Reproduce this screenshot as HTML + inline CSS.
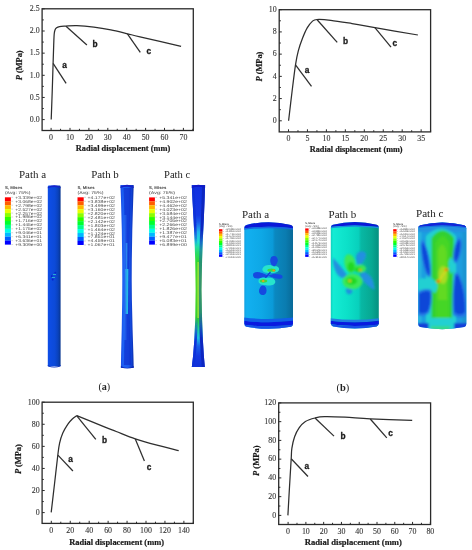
<!DOCTYPE html>
<html><head><meta charset="utf-8"><style>
html,body{margin:0;padding:0;background:#fff;width:472px;height:550px;overflow:hidden;}
svg{display:block;}
.tk{font-family:"Liberation Serif",serif;font-size:7.9px;fill:#333;stroke:#333;stroke-width:0.1px;}
.ttl{font-family:"Liberation Serif",serif;font-weight:bold;font-size:8.6px;fill:#1a1a1a;stroke:#1a1a1a;stroke-width:0.2px;}
.bl{font-family:"Liberation Sans",sans-serif;font-weight:bold;font-size:8.3px;fill:#1a1a1a;stroke:#1a1a1a;stroke-width:0.3px;}
.pt{font-family:"Liberation Serif",serif;font-size:11px;fill:#222;}
.lg{font-family:"Liberation Sans",sans-serif;fill:#444;}
.lh{font-family:"Liberation Sans",sans-serif;font-weight:bold;fill:#444;}
</style></head><body>
<svg width="472" height="550" viewBox="0 0 472 550">
<defs>

<linearGradient id="gca" x1="0" x2="1" y1="0" y2="0">
 <stop offset="0" stop-color="#0e4ee8"/><stop offset="0.55" stop-color="#0c4ad8"/><stop offset="0.8" stop-color="#0a42bc"/><stop offset="1" stop-color="#07358f"/>
</linearGradient>
<linearGradient id="gcb" x1="0" x2="1" y1="0" y2="0">
 <stop offset="0" stop-color="#1448e4"/><stop offset="0.2" stop-color="#1e60f4"/><stop offset="0.6" stop-color="#1a58ec"/><stop offset="0.85" stop-color="#1040d0"/><stop offset="1" stop-color="#0a2ca8"/>
</linearGradient>
<linearGradient id="gcc" x1="0" x2="0" y1="185" y2="367" gradientUnits="userSpaceOnUse">
 <stop offset="0" stop-color="#1030e0"/><stop offset="0.165" stop-color="#1438e4"/><stop offset="0.203" stop-color="#1a58ea"/><stop offset="0.258" stop-color="#20b8ec"/>
 <stop offset="0.313" stop-color="#20e0d0"/><stop offset="0.368" stop-color="#28dc70"/><stop offset="0.423" stop-color="#30d830"/><stop offset="0.522" stop-color="#50d828"/>
 <stop offset="0.632" stop-color="#48d428"/><stop offset="0.731" stop-color="#30d030"/><stop offset="0.797" stop-color="#20d0a0"/><stop offset="0.841" stop-color="#20c0e0"/>
 <stop offset="0.885" stop-color="#1860e8"/><stop offset="0.94" stop-color="#1438e0"/><stop offset="1" stop-color="#1030d8"/>
</linearGradient>
<linearGradient id="gedge" x1="0" x2="0" y1="185" y2="367" gradientUnits="userSpaceOnUse">
 <stop offset="0" stop-color="#1030d8" stop-opacity="1"/><stop offset="0.22" stop-color="#1030d8" stop-opacity="1"/><stop offset="0.34" stop-color="#1030d8" stop-opacity="0"/>
 <stop offset="0.72" stop-color="#1030d8" stop-opacity="0"/><stop offset="0.86" stop-color="#1030d8" stop-opacity="1"/><stop offset="1" stop-color="#1030d8" stop-opacity="1"/>
</linearGradient>
<linearGradient id="gedge2" x1="0" x2="0" y1="185" y2="367" gradientUnits="userSpaceOnUse">
 <stop offset="0" stop-color="#0c28c0" stop-opacity="1"/><stop offset="0.25" stop-color="#0c28c0" stop-opacity="1"/><stop offset="0.36" stop-color="#1040c0" stop-opacity="0.45"/>
 <stop offset="0.7" stop-color="#1040c0" stop-opacity="0.45"/><stop offset="0.84" stop-color="#0c28c0" stop-opacity="1"/><stop offset="1" stop-color="#0c28c0" stop-opacity="1"/>
</linearGradient>
<linearGradient id="gsh" x1="0" x2="1" y1="0" y2="0">
 <stop offset="0" stop-color="#0010a0" stop-opacity="0.15"/><stop offset="0.25" stop-color="#000" stop-opacity="0"/><stop offset="0.6" stop-color="#0010a0" stop-opacity="0.08"/><stop offset="1" stop-color="#0010a0" stop-opacity="0.5"/>
</linearGradient>
<linearGradient id="gya" x1="244.3" x2="293" y1="0" y2="0" gradientUnits="userSpaceOnUse">
 <stop offset="0" stop-color="#14a0e0"/><stop offset="0.05" stop-color="#12b0f0"/><stop offset="0.35" stop-color="#0ea8e6"/><stop offset="0.58" stop-color="#0a9ad8"/><stop offset="0.63" stop-color="#0a88c0"/><stop offset="0.85" stop-color="#0a7cb0"/><stop offset="1" stop-color="#086a98"/>
</linearGradient>
<linearGradient id="gyb" x1="330.8" x2="378.8" y1="0" y2="0" gradientUnits="userSpaceOnUse">
 <stop offset="0" stop-color="#10d0bc"/><stop offset="0.05" stop-color="#14ecd4"/><stop offset="0.35" stop-color="#0ce0c8"/><stop offset="0.58" stop-color="#08d0bc"/><stop offset="0.63" stop-color="#08b8a4"/><stop offset="0.85" stop-color="#07a892"/><stop offset="1" stop-color="#059080"/>
</linearGradient>
<filter id="bl1" x="-20%" y="-20%" width="140%" height="140%"><feGaussianBlur stdDeviation="0.9"/></filter>
<filter id="bl2" x="-20%" y="-20%" width="140%" height="140%"><feGaussianBlur stdDeviation="0.75"/></filter>

</defs>
<rect width="472" height="550" fill="#fff"/>
<rect x="42.1" y="8.8" width="151.2" height="121.7" fill="none" stroke="#2a2a2a" stroke-width="1.3"/>
<path d="M51.1,130.5v-2.6 M70,130.5v-2.6 M88.9,130.5v-2.6 M107.8,130.5v-2.6 M126.7,130.5v-2.6 M145.6,130.5v-2.6 M164.5,130.5v-2.6 M183.4,130.5v-2.6 M60.55,130.5v-1.7 M79.45,130.5v-1.7 M98.35,130.5v-1.7 M117.25,130.5v-1.7 M136.15,130.5v-1.7 M155.05,130.5v-1.7 M173.95,130.5v-1.7 M192.85,130.5v-1.7 M42.1,119.6h2.6 M42.1,97.45h2.6 M42.1,75.3h2.6 M42.1,53.15h2.6 M42.1,31h2.6 M42.1,8.85h2.6 M42.1,108.52h1.7 M42.1,86.38h1.7 M42.1,64.22h1.7 M42.1,42.08h1.7 M42.1,19.92h1.7" stroke="#2a2a2a" stroke-width="1" fill="none"/>
<text x="51.1" y="139.6" class="tk" text-anchor="middle">0</text>
<text x="70" y="139.6" class="tk" text-anchor="middle">10</text>
<text x="88.9" y="139.6" class="tk" text-anchor="middle">20</text>
<text x="107.8" y="139.6" class="tk" text-anchor="middle">30</text>
<text x="126.7" y="139.6" class="tk" text-anchor="middle">40</text>
<text x="145.6" y="139.6" class="tk" text-anchor="middle">50</text>
<text x="164.5" y="139.6" class="tk" text-anchor="middle">60</text>
<text x="183.4" y="139.6" class="tk" text-anchor="middle">70</text>
<text x="39.6" y="121.9" class="tk" text-anchor="end">0.0</text>
<text x="39.6" y="99.75" class="tk" text-anchor="end">0.5</text>
<text x="39.6" y="77.6" class="tk" text-anchor="end">1.0</text>
<text x="39.6" y="55.45" class="tk" text-anchor="end">1.5</text>
<text x="39.6" y="33.3" class="tk" text-anchor="end">2.0</text>
<text x="39.6" y="11.15" class="tk" text-anchor="end">2.5</text>
<text x="75.8" y="150.9" class="ttl" textLength="94.4" lengthAdjust="spacingAndGlyphs">Radial displacement (mm)</text>
<text transform="translate(22.3,80.3) rotate(-90)" class="ttl" x="0" y="0" textLength="29.9" lengthAdjust="spacingAndGlyphs"><tspan font-style="italic">P</tspan> (MPa)</text>
<path d="M51.2,119.4 C51.37,114.83 51.88,101.35 52.2,92 C52.52,82.65 52.85,71.13 53.1,63.3 C53.35,55.47 53.52,49.88 53.7,45 C53.88,40.12 53.98,36.5 54.2,34 C54.42,31.5 54.6,31.03 55,30 C55.4,28.97 55.85,28.37 56.6,27.8 C57.35,27.23 57.95,26.88 59.5,26.6 C61.05,26.32 63,26.27 65.9,26.1 C68.8,25.93 72.23,25.43 76.9,25.6 C81.57,25.77 88.25,26.38 93.9,27.1 C99.55,27.82 105.2,28.78 110.8,29.9 C116.4,31.02 122.63,32.65 127.5,33.8 C132.37,34.95 131.07,34.72 140,36.8 C148.93,38.88 174.25,44.72 181.1,46.3" stroke="#2e2e2e" stroke-width="1.25" fill="none" stroke-linejoin="round"/>
<path d="M53.1,63.3L66.1,83.3" stroke="#2e2e2e" stroke-width="1.25" fill="none"/>
<path d="M66,26.3L86.9,45" stroke="#2e2e2e" stroke-width="1.25" fill="none"/>
<path d="M127.4,33.8L140.3,52.3" stroke="#2e2e2e" stroke-width="1.25" fill="none"/>
<text x="62.2" y="68.4" class="bl">a</text>
<text x="92.5" y="47.2" class="bl">b</text>
<text x="146.6" y="53.9" class="bl">c</text>
<rect x="279.2" y="9.7" width="151.4" height="122.2" fill="none" stroke="#2a2a2a" stroke-width="1.3"/>
<path d="M288.5,131.9v-2.6 M307.45,131.9v-2.6 M326.4,131.9v-2.6 M345.35,131.9v-2.6 M364.3,131.9v-2.6 M383.25,131.9v-2.6 M402.2,131.9v-2.6 M421.15,131.9v-2.6 M297.98,131.9v-1.7 M316.93,131.9v-1.7 M335.88,131.9v-1.7 M354.82,131.9v-1.7 M373.77,131.9v-1.7 M392.73,131.9v-1.7 M411.68,131.9v-1.7 M430.62,131.9v-1.7 M279.2,120.8h2.6 M279.2,98.58h2.6 M279.2,76.36h2.6 M279.2,54.14h2.6 M279.2,31.92h2.6 M279.2,9.7h2.6 M279.2,109.69h1.7 M279.2,87.47h1.7 M279.2,65.25h1.7 M279.2,43.03h1.7 M279.2,20.81h1.7" stroke="#2a2a2a" stroke-width="1" fill="none"/>
<text x="288.5" y="141" class="tk" text-anchor="middle">0</text>
<text x="307.45" y="141" class="tk" text-anchor="middle">5</text>
<text x="326.4" y="141" class="tk" text-anchor="middle">10</text>
<text x="345.35" y="141" class="tk" text-anchor="middle">15</text>
<text x="364.3" y="141" class="tk" text-anchor="middle">20</text>
<text x="383.25" y="141" class="tk" text-anchor="middle">25</text>
<text x="402.2" y="141" class="tk" text-anchor="middle">30</text>
<text x="421.15" y="141" class="tk" text-anchor="middle">35</text>
<text x="276.7" y="123.1" class="tk" text-anchor="end">0</text>
<text x="276.7" y="100.88" class="tk" text-anchor="end">2</text>
<text x="276.7" y="78.66" class="tk" text-anchor="end">4</text>
<text x="276.7" y="56.44" class="tk" text-anchor="end">6</text>
<text x="276.7" y="34.22" class="tk" text-anchor="end">8</text>
<text x="276.7" y="12" class="tk" text-anchor="end">10</text>
<text x="309.8" y="151.8" class="ttl" textLength="92.8" lengthAdjust="spacingAndGlyphs">Radial displacement (mm)</text>
<text transform="translate(262,81.5) rotate(-90)" class="ttl" x="0" y="0" textLength="29.9" lengthAdjust="spacingAndGlyphs"><tspan font-style="italic">P</tspan> (MPa)</text>
<path d="M288.6,120.8 C289.17,116 290.85,101.33 292,92 C293.15,82.67 294.45,71.67 295.5,64.8 C296.55,57.93 297.12,55.25 298.3,50.8 C299.48,46.35 301.12,41.92 302.6,38.1 C304.08,34.28 305.58,30.68 307.2,27.9 C308.82,25.12 310.68,22.8 312.3,21.4 C313.92,20 313.82,19.68 316.9,19.5 C319.98,19.32 324.95,19.62 330.8,20.3 C336.65,20.98 344.65,22.38 352,23.6 C359.35,24.82 363.92,25.7 374.9,27.6 C385.88,29.5 410.73,33.77 417.9,35" stroke="#2e2e2e" stroke-width="1.25" fill="none" stroke-linejoin="round"/>
<path d="M295.5,64.8L311.5,86.4" stroke="#2e2e2e" stroke-width="1.25" fill="none"/>
<path d="M316.9,19.5L337.2,42.4" stroke="#2e2e2e" stroke-width="1.25" fill="none"/>
<path d="M374.9,27.6L391,47.1" stroke="#2e2e2e" stroke-width="1.25" fill="none"/>
<text x="304.7" y="73.3" class="bl">a</text>
<text x="342.9" y="44.3" class="bl">b</text>
<text x="392.4" y="45.6" class="bl">c</text>
<rect x="42.1" y="402.2" width="151.2" height="121.2" fill="none" stroke="#2a2a2a" stroke-width="1.3"/>
<path d="M51.3,523.4v-2.6 M70.24,523.4v-2.6 M89.18,523.4v-2.6 M108.12,523.4v-2.6 M127.06,523.4v-2.6 M146,523.4v-2.6 M164.94,523.4v-2.6 M183.88,523.4v-2.6 M60.77,523.4v-1.7 M79.71,523.4v-1.7 M98.65,523.4v-1.7 M117.59,523.4v-1.7 M136.53,523.4v-1.7 M155.47,523.4v-1.7 M174.41,523.4v-1.7 M193.35,523.4v-1.7 M42.1,512.6h2.6 M42.1,490.52h2.6 M42.1,468.44h2.6 M42.1,446.36h2.6 M42.1,424.28h2.6 M42.1,402.2h2.6 M42.1,501.56h1.7 M42.1,479.48h1.7 M42.1,457.4h1.7 M42.1,435.32h1.7 M42.1,413.24h1.7" stroke="#2a2a2a" stroke-width="1" fill="none"/>
<text x="51.3" y="532.5" class="tk" text-anchor="middle">0</text>
<text x="70.24" y="532.5" class="tk" text-anchor="middle">20</text>
<text x="89.18" y="532.5" class="tk" text-anchor="middle">40</text>
<text x="108.12" y="532.5" class="tk" text-anchor="middle">60</text>
<text x="127.06" y="532.5" class="tk" text-anchor="middle">80</text>
<text x="146" y="532.5" class="tk" text-anchor="middle">100</text>
<text x="164.94" y="532.5" class="tk" text-anchor="middle">120</text>
<text x="183.88" y="532.5" class="tk" text-anchor="middle">140</text>
<text x="39.6" y="514.9" class="tk" text-anchor="end">0</text>
<text x="39.6" y="492.82" class="tk" text-anchor="end">20</text>
<text x="39.6" y="470.74" class="tk" text-anchor="end">40</text>
<text x="39.6" y="448.66" class="tk" text-anchor="end">60</text>
<text x="39.6" y="426.58" class="tk" text-anchor="end">80</text>
<text x="39.6" y="404.5" class="tk" text-anchor="end">100</text>
<text x="69.2" y="545.3" class="ttl" textLength="94.8" lengthAdjust="spacingAndGlyphs">Radial displacement (mm)</text>
<text transform="translate(21,474.1) rotate(-90)" class="ttl" x="0" y="0" textLength="29.9" lengthAdjust="spacingAndGlyphs"><tspan font-style="italic">P</tspan> (MPa)</text>
<path d="M51.2,512.4 C51.75,507.67 53.4,493.53 54.5,484 C55.6,474.47 56.95,462.02 57.8,455.2 C58.65,448.38 58.77,446.8 59.6,443.1 C60.43,439.4 61.42,436.17 62.8,433 C64.18,429.83 66.32,426.43 67.9,424.1 C69.48,421.77 70.82,420.42 72.3,419 C73.78,417.58 76.05,416.17 76.8,415.6" stroke="#2e2e2e" stroke-width="1.25" fill="none" stroke-linejoin="round"/>
<path d="M76.8,415.6 C81.5,417.53 98.43,424.55 105,427.2 C111.57,429.85 111.15,429.55 116.2,431.5 C121.25,433.45 128.5,436.62 135.3,438.9 C142.1,441.18 149.77,443.25 157,445.2 C164.23,447.15 175.08,449.7 178.7,450.6" stroke="#2e2e2e" stroke-width="1.25" fill="none" stroke-linejoin="round"/>
<path d="M57.9,455.1L72.9,471" stroke="#2e2e2e" stroke-width="1.25" fill="none"/>
<path d="M76.8,415.8L95.8,439.3" stroke="#2e2e2e" stroke-width="1.25" fill="none"/>
<path d="M135.3,438.9L144.4,461.1" stroke="#2e2e2e" stroke-width="1.25" fill="none"/>
<text x="68.2" y="461.7" class="bl">a</text>
<text x="102" y="442.5" class="bl">b</text>
<text x="146.8" y="469.6" class="bl">c</text>
<rect x="278.7" y="402.9" width="151.9" height="121.6" fill="none" stroke="#2a2a2a" stroke-width="1.3"/>
<path d="M288.1,524.5v-2.6 M305.88,524.5v-2.6 M323.66,524.5v-2.6 M341.44,524.5v-2.6 M359.22,524.5v-2.6 M377,524.5v-2.6 M394.78,524.5v-2.6 M412.56,524.5v-2.6 M430.34,524.5v-2.6 M296.99,524.5v-1.7 M314.77,524.5v-1.7 M332.55,524.5v-1.7 M350.33,524.5v-1.7 M368.11,524.5v-1.7 M385.89,524.5v-1.7 M403.67,524.5v-1.7 M421.45,524.5v-1.7 M278.7,515.4h2.6 M278.7,496.65h2.6 M278.7,477.9h2.6 M278.7,459.15h2.6 M278.7,440.4h2.6 M278.7,421.65h2.6 M278.7,402.9h2.6 M278.7,506.02h1.7 M278.7,487.27h1.7 M278.7,468.52h1.7 M278.7,449.77h1.7 M278.7,431.02h1.7 M278.7,412.27h1.7" stroke="#2a2a2a" stroke-width="1" fill="none"/>
<text x="288.1" y="533.6" class="tk" text-anchor="middle">0</text>
<text x="305.88" y="533.6" class="tk" text-anchor="middle">10</text>
<text x="323.66" y="533.6" class="tk" text-anchor="middle">20</text>
<text x="341.44" y="533.6" class="tk" text-anchor="middle">30</text>
<text x="359.22" y="533.6" class="tk" text-anchor="middle">40</text>
<text x="377" y="533.6" class="tk" text-anchor="middle">50</text>
<text x="394.78" y="533.6" class="tk" text-anchor="middle">60</text>
<text x="412.56" y="533.6" class="tk" text-anchor="middle">70</text>
<text x="430.34" y="533.6" class="tk" text-anchor="middle">80</text>
<text x="276.2" y="517.7" class="tk" text-anchor="end">0</text>
<text x="276.2" y="498.95" class="tk" text-anchor="end">20</text>
<text x="276.2" y="480.2" class="tk" text-anchor="end">40</text>
<text x="276.2" y="461.45" class="tk" text-anchor="end">60</text>
<text x="276.2" y="442.7" class="tk" text-anchor="end">80</text>
<text x="276.2" y="423.95" class="tk" text-anchor="end">100</text>
<text x="276.2" y="405.2" class="tk" text-anchor="end">120</text>
<text x="304.7" y="545.3" class="ttl" textLength="97.2" lengthAdjust="spacingAndGlyphs">Radial displacement (mm)</text>
<text transform="translate(258.6,476) rotate(-90)" class="ttl" x="0" y="0" textLength="30.6" lengthAdjust="spacingAndGlyphs"><tspan font-style="italic">P</tspan> (MPa)</text>
<path d="M287.9,515.4 C288.17,510.67 288.95,496.45 289.5,487 C290.05,477.55 290.8,465.17 291.2,458.7 C291.6,452.23 291.33,451.85 291.9,448.2 C292.47,444.55 293.4,440.18 294.6,436.8 C295.8,433.42 297.3,430.45 299.1,427.9 C300.9,425.35 302.75,423.15 305.4,421.5 C308.05,419.85 311.82,418.8 315,418 C318.18,417.2 319.5,416.83 324.5,416.7 C329.5,416.57 337.37,416.85 345,417.2 C352.63,417.55 359.1,418.28 370.3,418.8 C381.5,419.32 405.22,420.05 412.2,420.3" stroke="#2e2e2e" stroke-width="1.25" fill="none" stroke-linejoin="round"/>
<path d="M291.2,458.7L308,476.5" stroke="#2e2e2e" stroke-width="1.25" fill="none"/>
<path d="M315,418L334,436.1" stroke="#2e2e2e" stroke-width="1.25" fill="none"/>
<path d="M370.3,419L386.8,437.8" stroke="#2e2e2e" stroke-width="1.25" fill="none"/>
<text x="304.5" y="469.1" class="bl">a</text>
<text x="340.4" y="438.9" class="bl">b</text>
<text x="388.2" y="435.7" class="bl">c</text>
<rect x="4.9" y="197.3" width="6" height="3.99" fill="#ff0000"/>
<rect x="4.9" y="201.24" width="6" height="3.99" fill="#ff5d00"/>
<rect x="4.9" y="205.18" width="6" height="3.99" fill="#ffb900"/>
<rect x="4.9" y="209.12" width="6" height="3.99" fill="#e8ff00"/>
<rect x="4.9" y="213.06" width="6" height="3.99" fill="#8bff00"/>
<rect x="4.9" y="217" width="6" height="3.99" fill="#2eff00"/>
<rect x="4.9" y="220.94" width="6" height="3.99" fill="#00ff2e"/>
<rect x="4.9" y="224.88" width="6" height="3.99" fill="#00ff8b"/>
<rect x="4.9" y="228.82" width="6" height="3.99" fill="#00ffe8"/>
<rect x="4.9" y="232.76" width="6" height="3.99" fill="#00b9ff"/>
<rect x="4.9" y="236.7" width="6" height="3.99" fill="#005dff"/>
<rect x="4.9" y="240.64" width="6" height="3.99" fill="#0000ff"/>
<text transform="translate(4.9,188.9) scale(0.1)" class="lh" font-size="42" textLength="175" lengthAdjust="spacingAndGlyphs" text-rendering="geometricPrecision">S, Mises</text>
<text transform="translate(4.9,193.8) scale(0.1)" class="lg" font-size="42" textLength="255" lengthAdjust="spacingAndGlyphs" text-rendering="geometricPrecision">(Avg: 75%)</text>
<text transform="translate(15.3,198.78) scale(0.1)" class="lg" font-size="41" textLength="267" lengthAdjust="spacingAndGlyphs" text-rendering="geometricPrecision">+3.339e+02</text>
<text transform="translate(15.3,202.72) scale(0.1)" class="lg" font-size="41" textLength="267" lengthAdjust="spacingAndGlyphs" text-rendering="geometricPrecision">+3.068e+02</text>
<text transform="translate(15.3,206.66) scale(0.1)" class="lg" font-size="41" textLength="267" lengthAdjust="spacingAndGlyphs" text-rendering="geometricPrecision">+2.798e+02</text>
<text transform="translate(15.3,210.6) scale(0.1)" class="lg" font-size="41" textLength="267" lengthAdjust="spacingAndGlyphs" text-rendering="geometricPrecision">+2.527e+02</text>
<text transform="translate(15.3,214.54) scale(0.1)" class="lg" font-size="41" textLength="267" lengthAdjust="spacingAndGlyphs" text-rendering="geometricPrecision">+2.257e+02</text>
<text transform="translate(15.3,218.48) scale(0.1)" class="lg" font-size="41" textLength="267" lengthAdjust="spacingAndGlyphs" text-rendering="geometricPrecision">+1.986e+02</text>
<text transform="translate(15.3,222.42) scale(0.1)" class="lg" font-size="41" textLength="267" lengthAdjust="spacingAndGlyphs" text-rendering="geometricPrecision">+1.716e+02</text>
<text transform="translate(15.3,226.36) scale(0.1)" class="lg" font-size="41" textLength="267" lengthAdjust="spacingAndGlyphs" text-rendering="geometricPrecision">+1.445e+02</text>
<text transform="translate(15.3,230.3) scale(0.1)" class="lg" font-size="41" textLength="267" lengthAdjust="spacingAndGlyphs" text-rendering="geometricPrecision">+1.175e+02</text>
<text transform="translate(15.3,234.24) scale(0.1)" class="lg" font-size="41" textLength="267" lengthAdjust="spacingAndGlyphs" text-rendering="geometricPrecision">+9.046e+01</text>
<text transform="translate(15.3,238.18) scale(0.1)" class="lg" font-size="41" textLength="267" lengthAdjust="spacingAndGlyphs" text-rendering="geometricPrecision">+6.341e+01</text>
<text transform="translate(15.3,242.12) scale(0.1)" class="lg" font-size="41" textLength="267" lengthAdjust="spacingAndGlyphs" text-rendering="geometricPrecision">+3.636e+01</text>
<text transform="translate(15.3,246.06) scale(0.1)" class="lg" font-size="41" textLength="267" lengthAdjust="spacingAndGlyphs" text-rendering="geometricPrecision">+9.309e+00</text>
<path d="M11.3,197.3h1.8 M11.3,201.24h1.8 M11.3,205.18h1.8 M11.3,209.12h1.8 M11.3,213.06h1.8 M11.3,217h1.8 M11.3,220.94h1.8 M11.3,224.88h1.8 M11.3,228.82h1.8 M11.3,232.76h1.8 M11.3,236.7h1.8 M11.3,240.64h1.8 M11.3,244.58h1.8" stroke="#888" stroke-width="0.35"/>
<rect x="77.5" y="197.3" width="6.2" height="4.02" fill="#ff0000"/>
<rect x="77.5" y="201.27" width="6.2" height="4.02" fill="#ff5d00"/>
<rect x="77.5" y="205.24" width="6.2" height="4.02" fill="#ffb900"/>
<rect x="77.5" y="209.21" width="6.2" height="4.02" fill="#e8ff00"/>
<rect x="77.5" y="213.18" width="6.2" height="4.02" fill="#8bff00"/>
<rect x="77.5" y="217.15" width="6.2" height="4.02" fill="#2eff00"/>
<rect x="77.5" y="221.12" width="6.2" height="4.02" fill="#00ff2e"/>
<rect x="77.5" y="225.09" width="6.2" height="4.02" fill="#00ff8b"/>
<rect x="77.5" y="229.06" width="6.2" height="4.02" fill="#00ffe8"/>
<rect x="77.5" y="233.03" width="6.2" height="4.02" fill="#00b9ff"/>
<rect x="77.5" y="237" width="6.2" height="4.02" fill="#005dff"/>
<rect x="77.5" y="240.97" width="6.2" height="4.02" fill="#0000ff"/>
<text transform="translate(77.5,188.9) scale(0.1)" class="lh" font-size="42" textLength="172" lengthAdjust="spacingAndGlyphs" text-rendering="geometricPrecision">S, Mises</text>
<text transform="translate(77.5,193.8) scale(0.1)" class="lg" font-size="42" textLength="260" lengthAdjust="spacingAndGlyphs" text-rendering="geometricPrecision">(Avg: 75%)</text>
<text transform="translate(87.6,198.78) scale(0.1)" class="lg" font-size="41" textLength="273" lengthAdjust="spacingAndGlyphs" text-rendering="geometricPrecision">+4.177e+02</text>
<text transform="translate(87.6,202.75) scale(0.1)" class="lg" font-size="41" textLength="273" lengthAdjust="spacingAndGlyphs" text-rendering="geometricPrecision">+3.838e+02</text>
<text transform="translate(87.6,206.72) scale(0.1)" class="lg" font-size="41" textLength="273" lengthAdjust="spacingAndGlyphs" text-rendering="geometricPrecision">+3.499e+02</text>
<text transform="translate(87.6,210.69) scale(0.1)" class="lg" font-size="41" textLength="273" lengthAdjust="spacingAndGlyphs" text-rendering="geometricPrecision">+3.160e+02</text>
<text transform="translate(87.6,214.66) scale(0.1)" class="lg" font-size="41" textLength="273" lengthAdjust="spacingAndGlyphs" text-rendering="geometricPrecision">+2.820e+02</text>
<text transform="translate(87.6,218.63) scale(0.1)" class="lg" font-size="41" textLength="273" lengthAdjust="spacingAndGlyphs" text-rendering="geometricPrecision">+2.481e+02</text>
<text transform="translate(87.6,222.6) scale(0.1)" class="lg" font-size="41" textLength="273" lengthAdjust="spacingAndGlyphs" text-rendering="geometricPrecision">+2.142e+02</text>
<text transform="translate(87.6,226.57) scale(0.1)" class="lg" font-size="41" textLength="273" lengthAdjust="spacingAndGlyphs" text-rendering="geometricPrecision">+1.803e+02</text>
<text transform="translate(87.6,230.54) scale(0.1)" class="lg" font-size="41" textLength="273" lengthAdjust="spacingAndGlyphs" text-rendering="geometricPrecision">+1.464e+02</text>
<text transform="translate(87.6,234.51) scale(0.1)" class="lg" font-size="41" textLength="273" lengthAdjust="spacingAndGlyphs" text-rendering="geometricPrecision">+1.124e+02</text>
<text transform="translate(87.6,238.48) scale(0.1)" class="lg" font-size="41" textLength="273" lengthAdjust="spacingAndGlyphs" text-rendering="geometricPrecision">+7.851e+01</text>
<text transform="translate(87.6,242.45) scale(0.1)" class="lg" font-size="41" textLength="273" lengthAdjust="spacingAndGlyphs" text-rendering="geometricPrecision">+4.459e+01</text>
<text transform="translate(87.6,246.42) scale(0.1)" class="lg" font-size="41" textLength="273" lengthAdjust="spacingAndGlyphs" text-rendering="geometricPrecision">+1.067e+01</text>
<path d="M84.1,197.3h1.86 M84.1,201.27h1.86 M84.1,205.24h1.86 M84.1,209.21h1.86 M84.1,213.18h1.86 M84.1,217.15h1.86 M84.1,221.12h1.86 M84.1,225.09h1.86 M84.1,229.06h1.86 M84.1,233.03h1.86 M84.1,237h1.86 M84.1,240.97h1.86 M84.1,244.94h1.86" stroke="#888" stroke-width="0.35"/>
<rect x="149.1" y="197.4" width="5.8" height="3.98" fill="#ff0000"/>
<rect x="149.1" y="201.33" width="5.8" height="3.98" fill="#ff5d00"/>
<rect x="149.1" y="205.26" width="5.8" height="3.98" fill="#ffb900"/>
<rect x="149.1" y="209.19" width="5.8" height="3.98" fill="#e8ff00"/>
<rect x="149.1" y="213.12" width="5.8" height="3.98" fill="#8bff00"/>
<rect x="149.1" y="217.05" width="5.8" height="3.98" fill="#2eff00"/>
<rect x="149.1" y="220.98" width="5.8" height="3.98" fill="#00ff2e"/>
<rect x="149.1" y="224.91" width="5.8" height="3.98" fill="#00ff8b"/>
<rect x="149.1" y="228.84" width="5.8" height="3.98" fill="#00ffe8"/>
<rect x="149.1" y="232.77" width="5.8" height="3.98" fill="#00b9ff"/>
<rect x="149.1" y="236.7" width="5.8" height="3.98" fill="#005dff"/>
<rect x="149.1" y="240.63" width="5.8" height="3.98" fill="#0000ff"/>
<text transform="translate(149.1,188.9) scale(0.1)" class="lh" font-size="42" textLength="172" lengthAdjust="spacingAndGlyphs" text-rendering="geometricPrecision">S, Mises</text>
<text transform="translate(149.1,193.8) scale(0.1)" class="lg" font-size="42" textLength="260" lengthAdjust="spacingAndGlyphs" text-rendering="geometricPrecision">(Avg: 75%)</text>
<text transform="translate(159.3,198.88) scale(0.1)" class="lg" font-size="41" textLength="275" lengthAdjust="spacingAndGlyphs" text-rendering="geometricPrecision">+5.341e+02</text>
<text transform="translate(159.3,202.81) scale(0.1)" class="lg" font-size="41" textLength="275" lengthAdjust="spacingAndGlyphs" text-rendering="geometricPrecision">+4.902e+02</text>
<text transform="translate(159.3,206.74) scale(0.1)" class="lg" font-size="41" textLength="275" lengthAdjust="spacingAndGlyphs" text-rendering="geometricPrecision">+4.462e+02</text>
<text transform="translate(159.3,210.67) scale(0.1)" class="lg" font-size="41" textLength="275" lengthAdjust="spacingAndGlyphs" text-rendering="geometricPrecision">+4.023e+02</text>
<text transform="translate(159.3,214.6) scale(0.1)" class="lg" font-size="41" textLength="275" lengthAdjust="spacingAndGlyphs" text-rendering="geometricPrecision">+3.584e+02</text>
<text transform="translate(159.3,218.53) scale(0.1)" class="lg" font-size="41" textLength="275" lengthAdjust="spacingAndGlyphs" text-rendering="geometricPrecision">+3.144e+02</text>
<text transform="translate(159.3,222.46) scale(0.1)" class="lg" font-size="41" textLength="275" lengthAdjust="spacingAndGlyphs" text-rendering="geometricPrecision">+2.705e+02</text>
<text transform="translate(159.3,226.39) scale(0.1)" class="lg" font-size="41" textLength="275" lengthAdjust="spacingAndGlyphs" text-rendering="geometricPrecision">+2.266e+02</text>
<text transform="translate(159.3,230.32) scale(0.1)" class="lg" font-size="41" textLength="275" lengthAdjust="spacingAndGlyphs" text-rendering="geometricPrecision">+1.826e+02</text>
<text transform="translate(159.3,234.25) scale(0.1)" class="lg" font-size="41" textLength="275" lengthAdjust="spacingAndGlyphs" text-rendering="geometricPrecision">+1.387e+02</text>
<text transform="translate(159.3,238.18) scale(0.1)" class="lg" font-size="41" textLength="275" lengthAdjust="spacingAndGlyphs" text-rendering="geometricPrecision">+9.477e+01</text>
<text transform="translate(159.3,242.11) scale(0.1)" class="lg" font-size="41" textLength="275" lengthAdjust="spacingAndGlyphs" text-rendering="geometricPrecision">+5.083e+01</text>
<text transform="translate(159.3,246.04) scale(0.1)" class="lg" font-size="41" textLength="275" lengthAdjust="spacingAndGlyphs" text-rendering="geometricPrecision">+6.899e+00</text>
<path d="M155.3,197.4h1.74 M155.3,201.33h1.74 M155.3,205.26h1.74 M155.3,209.19h1.74 M155.3,213.12h1.74 M155.3,217.05h1.74 M155.3,220.98h1.74 M155.3,224.91h1.74 M155.3,228.84h1.74 M155.3,232.77h1.74 M155.3,236.7h1.74 M155.3,240.63h1.74 M155.3,244.56h1.74" stroke="#888" stroke-width="0.35"/>
<rect x="219" y="229.2" width="3.4" height="2.35" fill="#ff0000"/>
<rect x="219" y="231.5" width="3.4" height="2.35" fill="#ff5d00"/>
<rect x="219" y="233.8" width="3.4" height="2.35" fill="#ffb900"/>
<rect x="219" y="236.1" width="3.4" height="2.35" fill="#e8ff00"/>
<rect x="219" y="238.4" width="3.4" height="2.35" fill="#8bff00"/>
<rect x="219" y="240.7" width="3.4" height="2.35" fill="#2eff00"/>
<rect x="219" y="243" width="3.4" height="2.35" fill="#00ff2e"/>
<rect x="219" y="245.3" width="3.4" height="2.35" fill="#00ff8b"/>
<rect x="219" y="247.6" width="3.4" height="2.35" fill="#00ffe8"/>
<rect x="219" y="249.9" width="3.4" height="2.35" fill="#00b9ff"/>
<rect x="219" y="252.2" width="3.4" height="2.35" fill="#005dff"/>
<rect x="219" y="254.5" width="3.4" height="2.35" fill="#0000ff"/>
<text transform="translate(219,224.6) scale(0.1)" class="lh" font-size="27" textLength="100" lengthAdjust="spacingAndGlyphs" text-rendering="geometricPrecision">S, Mises</text>
<text transform="translate(219,227.2) scale(0.1)" class="lg" font-size="27" textLength="135" lengthAdjust="spacingAndGlyphs" text-rendering="geometricPrecision">(Avg: 75%)</text>
<text transform="translate(225.2,230.17) scale(0.1)" class="lg" font-size="27" textLength="156" lengthAdjust="spacingAndGlyphs" text-rendering="geometricPrecision">+2.086e+02</text>
<text transform="translate(225.2,232.47) scale(0.1)" class="lg" font-size="27" textLength="156" lengthAdjust="spacingAndGlyphs" text-rendering="geometricPrecision">+1.916e+02</text>
<text transform="translate(225.2,234.77) scale(0.1)" class="lg" font-size="27" textLength="156" lengthAdjust="spacingAndGlyphs" text-rendering="geometricPrecision">+1.746e+02</text>
<text transform="translate(225.2,237.07) scale(0.1)" class="lg" font-size="27" textLength="156" lengthAdjust="spacingAndGlyphs" text-rendering="geometricPrecision">+1.576e+02</text>
<text transform="translate(225.2,239.37) scale(0.1)" class="lg" font-size="27" textLength="156" lengthAdjust="spacingAndGlyphs" text-rendering="geometricPrecision">+1.406e+02</text>
<text transform="translate(225.2,241.67) scale(0.1)" class="lg" font-size="27" textLength="156" lengthAdjust="spacingAndGlyphs" text-rendering="geometricPrecision">+1.236e+02</text>
<text transform="translate(225.2,243.97) scale(0.1)" class="lg" font-size="27" textLength="156" lengthAdjust="spacingAndGlyphs" text-rendering="geometricPrecision">+1.066e+02</text>
<text transform="translate(225.2,246.27) scale(0.1)" class="lg" font-size="27" textLength="156" lengthAdjust="spacingAndGlyphs" text-rendering="geometricPrecision">+8.961e+01</text>
<text transform="translate(225.2,248.57) scale(0.1)" class="lg" font-size="27" textLength="156" lengthAdjust="spacingAndGlyphs" text-rendering="geometricPrecision">+7.261e+01</text>
<text transform="translate(225.2,250.87) scale(0.1)" class="lg" font-size="27" textLength="156" lengthAdjust="spacingAndGlyphs" text-rendering="geometricPrecision">+5.561e+01</text>
<text transform="translate(225.2,253.17) scale(0.1)" class="lg" font-size="27" textLength="156" lengthAdjust="spacingAndGlyphs" text-rendering="geometricPrecision">+3.861e+01</text>
<text transform="translate(225.2,255.47) scale(0.1)" class="lg" font-size="27" textLength="156" lengthAdjust="spacingAndGlyphs" text-rendering="geometricPrecision">+2.161e+01</text>
<text transform="translate(225.2,257.77) scale(0.1)" class="lg" font-size="27" textLength="156" lengthAdjust="spacingAndGlyphs" text-rendering="geometricPrecision">+4.612e+00</text>
<path d="M222.8,229.2h1.02 M222.8,231.5h1.02 M222.8,233.8h1.02 M222.8,236.1h1.02 M222.8,238.4h1.02 M222.8,240.7h1.02 M222.8,243h1.02 M222.8,245.3h1.02 M222.8,247.6h1.02 M222.8,249.9h1.02 M222.8,252.2h1.02 M222.8,254.5h1.02 M222.8,256.8h1.02" stroke="#888" stroke-width="0.35"/>
<rect x="305.2" y="228.4" width="3.4" height="2.42" fill="#ff0000"/>
<rect x="305.2" y="230.77" width="3.4" height="2.42" fill="#ff5d00"/>
<rect x="305.2" y="233.14" width="3.4" height="2.42" fill="#ffb900"/>
<rect x="305.2" y="235.51" width="3.4" height="2.42" fill="#e8ff00"/>
<rect x="305.2" y="237.88" width="3.4" height="2.42" fill="#8bff00"/>
<rect x="305.2" y="240.25" width="3.4" height="2.42" fill="#2eff00"/>
<rect x="305.2" y="242.62" width="3.4" height="2.42" fill="#00ff2e"/>
<rect x="305.2" y="244.99" width="3.4" height="2.42" fill="#00ff8b"/>
<rect x="305.2" y="247.36" width="3.4" height="2.42" fill="#00ffe8"/>
<rect x="305.2" y="249.73" width="3.4" height="2.42" fill="#00b9ff"/>
<rect x="305.2" y="252.1" width="3.4" height="2.42" fill="#005dff"/>
<rect x="305.2" y="254.47" width="3.4" height="2.42" fill="#0000ff"/>
<text transform="translate(305.2,224) scale(0.1)" class="lh" font-size="27" textLength="100" lengthAdjust="spacingAndGlyphs" text-rendering="geometricPrecision">S, Mises</text>
<text transform="translate(305.2,226.6) scale(0.1)" class="lg" font-size="27" textLength="135" lengthAdjust="spacingAndGlyphs" text-rendering="geometricPrecision">(Avg: 75%)</text>
<text transform="translate(311.2,229.37) scale(0.1)" class="lg" font-size="27" textLength="156" lengthAdjust="spacingAndGlyphs" text-rendering="geometricPrecision">+3.689e+02</text>
<text transform="translate(311.2,231.74) scale(0.1)" class="lg" font-size="27" textLength="156" lengthAdjust="spacingAndGlyphs" text-rendering="geometricPrecision">+3.386e+02</text>
<text transform="translate(311.2,234.11) scale(0.1)" class="lg" font-size="27" textLength="156" lengthAdjust="spacingAndGlyphs" text-rendering="geometricPrecision">+3.083e+02</text>
<text transform="translate(311.2,236.48) scale(0.1)" class="lg" font-size="27" textLength="156" lengthAdjust="spacingAndGlyphs" text-rendering="geometricPrecision">+2.780e+02</text>
<text transform="translate(311.2,238.85) scale(0.1)" class="lg" font-size="27" textLength="156" lengthAdjust="spacingAndGlyphs" text-rendering="geometricPrecision">+2.477e+02</text>
<text transform="translate(311.2,241.22) scale(0.1)" class="lg" font-size="27" textLength="156" lengthAdjust="spacingAndGlyphs" text-rendering="geometricPrecision">+2.174e+02</text>
<text transform="translate(311.2,243.59) scale(0.1)" class="lg" font-size="27" textLength="156" lengthAdjust="spacingAndGlyphs" text-rendering="geometricPrecision">+1.871e+02</text>
<text transform="translate(311.2,245.96) scale(0.1)" class="lg" font-size="27" textLength="156" lengthAdjust="spacingAndGlyphs" text-rendering="geometricPrecision">+1.568e+02</text>
<text transform="translate(311.2,248.33) scale(0.1)" class="lg" font-size="27" textLength="156" lengthAdjust="spacingAndGlyphs" text-rendering="geometricPrecision">+1.265e+02</text>
<text transform="translate(311.2,250.7) scale(0.1)" class="lg" font-size="27" textLength="156" lengthAdjust="spacingAndGlyphs" text-rendering="geometricPrecision">+9.621e+01</text>
<text transform="translate(311.2,253.07) scale(0.1)" class="lg" font-size="27" textLength="156" lengthAdjust="spacingAndGlyphs" text-rendering="geometricPrecision">+6.591e+01</text>
<text transform="translate(311.2,255.44) scale(0.1)" class="lg" font-size="27" textLength="156" lengthAdjust="spacingAndGlyphs" text-rendering="geometricPrecision">+3.561e+01</text>
<text transform="translate(311.2,257.81) scale(0.1)" class="lg" font-size="27" textLength="156" lengthAdjust="spacingAndGlyphs" text-rendering="geometricPrecision">+5.311e+00</text>
<path d="M309,228.4h1.02 M309,230.77h1.02 M309,233.14h1.02 M309,235.51h1.02 M309,237.88h1.02 M309,240.25h1.02 M309,242.62h1.02 M309,244.99h1.02 M309,247.36h1.02 M309,249.73h1.02 M309,252.1h1.02 M309,254.47h1.02 M309,256.84h1.02" stroke="#888" stroke-width="0.35"/>
<rect x="393.2" y="229.2" width="3.4" height="2.35" fill="#ff0000"/>
<rect x="393.2" y="231.5" width="3.4" height="2.35" fill="#ff5d00"/>
<rect x="393.2" y="233.8" width="3.4" height="2.35" fill="#ffb900"/>
<rect x="393.2" y="236.1" width="3.4" height="2.35" fill="#e8ff00"/>
<rect x="393.2" y="238.4" width="3.4" height="2.35" fill="#8bff00"/>
<rect x="393.2" y="240.7" width="3.4" height="2.35" fill="#2eff00"/>
<rect x="393.2" y="243" width="3.4" height="2.35" fill="#00ff2e"/>
<rect x="393.2" y="245.3" width="3.4" height="2.35" fill="#00ff8b"/>
<rect x="393.2" y="247.6" width="3.4" height="2.35" fill="#00ffe8"/>
<rect x="393.2" y="249.9" width="3.4" height="2.35" fill="#00b9ff"/>
<rect x="393.2" y="252.2" width="3.4" height="2.35" fill="#005dff"/>
<rect x="393.2" y="254.5" width="3.4" height="2.35" fill="#0000ff"/>
<text transform="translate(393.2,224.6) scale(0.1)" class="lh" font-size="27" textLength="100" lengthAdjust="spacingAndGlyphs" text-rendering="geometricPrecision">S, Mises</text>
<text transform="translate(393.2,227.2) scale(0.1)" class="lg" font-size="27" textLength="135" lengthAdjust="spacingAndGlyphs" text-rendering="geometricPrecision">(Avg: 75%)</text>
<text transform="translate(399.2,230.17) scale(0.1)" class="lg" font-size="27" textLength="156" lengthAdjust="spacingAndGlyphs" text-rendering="geometricPrecision">+5.996e+02</text>
<text transform="translate(399.2,232.47) scale(0.1)" class="lg" font-size="27" textLength="156" lengthAdjust="spacingAndGlyphs" text-rendering="geometricPrecision">+5.503e+02</text>
<text transform="translate(399.2,234.77) scale(0.1)" class="lg" font-size="27" textLength="156" lengthAdjust="spacingAndGlyphs" text-rendering="geometricPrecision">+5.010e+02</text>
<text transform="translate(399.2,237.07) scale(0.1)" class="lg" font-size="27" textLength="156" lengthAdjust="spacingAndGlyphs" text-rendering="geometricPrecision">+4.517e+02</text>
<text transform="translate(399.2,239.37) scale(0.1)" class="lg" font-size="27" textLength="156" lengthAdjust="spacingAndGlyphs" text-rendering="geometricPrecision">+4.024e+02</text>
<text transform="translate(399.2,241.67) scale(0.1)" class="lg" font-size="27" textLength="156" lengthAdjust="spacingAndGlyphs" text-rendering="geometricPrecision">+3.531e+02</text>
<text transform="translate(399.2,243.97) scale(0.1)" class="lg" font-size="27" textLength="156" lengthAdjust="spacingAndGlyphs" text-rendering="geometricPrecision">+3.038e+02</text>
<text transform="translate(399.2,246.27) scale(0.1)" class="lg" font-size="27" textLength="156" lengthAdjust="spacingAndGlyphs" text-rendering="geometricPrecision">+2.545e+02</text>
<text transform="translate(399.2,248.57) scale(0.1)" class="lg" font-size="27" textLength="156" lengthAdjust="spacingAndGlyphs" text-rendering="geometricPrecision">+2.052e+02</text>
<text transform="translate(399.2,250.87) scale(0.1)" class="lg" font-size="27" textLength="156" lengthAdjust="spacingAndGlyphs" text-rendering="geometricPrecision">+1.559e+02</text>
<text transform="translate(399.2,253.17) scale(0.1)" class="lg" font-size="27" textLength="156" lengthAdjust="spacingAndGlyphs" text-rendering="geometricPrecision">+1.066e+02</text>
<text transform="translate(399.2,255.47) scale(0.1)" class="lg" font-size="27" textLength="156" lengthAdjust="spacingAndGlyphs" text-rendering="geometricPrecision">+5.731e+01</text>
<text transform="translate(399.2,257.77) scale(0.1)" class="lg" font-size="27" textLength="156" lengthAdjust="spacingAndGlyphs" text-rendering="geometricPrecision">+8.014e+00</text>
<path d="M397,229.2h1.02 M397,231.5h1.02 M397,233.8h1.02 M397,236.1h1.02 M397,238.4h1.02 M397,240.7h1.02 M397,243h1.02 M397,245.3h1.02 M397,247.6h1.02 M397,249.9h1.02 M397,252.2h1.02 M397,254.5h1.02 M397,256.8h1.02" stroke="#888" stroke-width="0.35"/>
<rect x="47.8" y="185.6" width="12.8" height="180.8" rx="1.2" fill="url(#gca)"/>
<path d="M47.8,187.2 Q54.2,183.2 60.6,187.2 L60.6,188.2 Q54.2,185.6 47.8,188.2 Z" fill="#1822cc"/>
<path d="M47.8,365 Q54.2,369.2 60.6,365 L60.6,366.2 Q54.2,368.6 47.8,366.2Z" fill="#0c30c0"/>
<g filter="url(#bl2)"><circle cx="55.4" cy="272.6" r="0.9" fill="#0820c8"/><rect x="53" y="274.2" width="3" height="0.8" fill="#30c0d0"/><circle cx="51.8" cy="276.1" r="0.9" fill="#0820c8"/><rect x="52" y="277" width="3" height="0.8" fill="#30c0d0"/><circle cx="52.7" cy="279.5" r="0.9" fill="#0820c8"/></g>
<path d="M120.4,185 L121,200 L121.8,230 L122.2,260 L122.3,280 L122.2,300 L121.7,330 L121.1,355 L120.9,368 L133.7,368 L133.4,355 L132.6,330 L131.9,300 L131.7,280 L131.8,260 L132.3,230 L133.2,200 L133.7,185 Z" fill="url(#gcb)"/>
<path d="M123.4,188 L124,200 L124.8,230 L125.2,260 L125.3,280 L125.2,300 L124.7,330 L124.1,355 L123.9,365 L131.1,365 L130.8,355 L130,330 L129.3,300 L129.1,280 L129.2,260 L129.7,230 L130.6,200 L131.1,188 Z" fill="#0828c8" opacity="0.55" filter="url(#bl2)"/>
<g filter="url(#bl2)"><path d="M125.6,243 L127.4,243 L127.2,276 L125.8,276 Z" fill="#30a0f0" opacity="0.8"/><path d="M125,269 L128.4,269 L128.0,314 L125.4,314 Z" fill="#28b8e8"/><path d="M123.5,215 L126.5,215 L126.5,340 L123.5,340Z" fill="#2a70f4" opacity="0.5"/></g>
<path d="M120.4,186.6 Q127,183 133.7,186.6 L133.7,188 Q127,185.4 120.4,188 Z" fill="#1620c8"/>
<path d="M120.9,366 Q127.3,370 133.7,366 L133.7,367.4 Q127.3,369.4 120.9,367.4Z" fill="#0c28b8"/>
<clipPath id="cpcc"><path d="M191.8,185 L192.5,200 L193.6,220 L194.5,240 L195.2,260 L195.6,290 L195.2,320 L194.3,340 L193.2,355 L191.8,367 L204.8,367 L203.8,355 L202.9,340 L202.1,320 L201.5,290 L202.1,260 L202.8,240 L203.8,220 L204.6,200 L205.1,185 Z"/></clipPath>
<g clip-path="url(#cpcc)">
<rect x="190" y="183" width="17" height="186" fill="url(#gcc)"/>
<g filter="url(#bl2)">
<path d="M189.8,185 L190.5,200 L191.6,220 L192.5,240 L193.2,260 L193.6,290 L193.2,320 L192.3,340 L191.2,355 L189.8,367 L194.4,367 L195.8,355 L196.9,340 L197.8,320 L198.2,290 L197.8,260 L197.1,240 L196.2,220 L195.1,200 L194.4,185 Z" fill="url(#gedge)"/>
<path d="M202.1,185 L201.6,200 L200.8,220 L199.8,240 L199.1,260 L198.5,290 L199.1,320 L199.9,340 L200.8,355 L201.8,367 L206.8,367 L205.8,355 L204.9,340 L204.1,320 L203.5,290 L204.1,260 L204.8,240 L205.8,220 L206.6,200 L207.1,185 Z" fill="url(#gedge2)"/>
<path d="M197.3,262 L199.0,262 L199.0,318 L197.3,318 Z" fill="#a8e040" opacity="0.75"/>
</g></g>
<path d="M191.8,186.6 Q198.4,183 205.1,186.6 L205.1,188 Q198.4,185.4 191.8,188 Z" fill="#1018c8"/>
<clipPath id="cpa"><path d="M244.3,228 Q244.3,225.5 246.5,224.9 Q268.65,219.5 290.8,224.9 Q293,225.5 293,228 L293,323.6 Q293,326.1 290.8,326.7 Q268.65,330.9 246.5,326.7 Q244.3,326.1 244.3,323.6 Z"/></clipPath>
<g clip-path="url(#cpa)">
<rect x="243.3" y="220.2" width="50.7" height="110.6" fill="url(#gya)"/>
<g filter="url(#bl2)">
<path d="M274,256 C278.5,256 278.5,262 276.5,264 L273,268.5 L271.2,264 C269.5,261 270,256 274,256Z" fill="#1448e0"/>
<path d="M262.5,268.5 C264,264.5 271,264 274,266.5 C277,265.5 280,267.5 278.8,270.5 C277,273.5 270,273.5 265,272.5 C262.5,271.5 262,270 262.5,268.5Z" fill="#28e4cc"/>
<ellipse cx="271.5" cy="270.2" rx="4.2" ry="1.6" fill="#40d840"/>
<ellipse cx="273.8" cy="270.5" rx="1.4" ry="0.9" fill="#e89020"/>
<path d="M253,275 C253,271.5 258,271.5 262,273 C265,274 267,275.3 268.5,276 C265,277.2 262,278.3 258,278.5 C255,278.6 253,277.5 253,275Z" fill="#1448e0"/>
<path d="M268,275.5 C271.5,274 276,273.4 280,274.5 C283.5,275.5 283.5,278.5 280,278.8 C276,279 271.5,277.5 268,275.5Z" fill="#1448e0"/>
<path d="M270.5,272 L264,279.5" stroke="#1438d8" stroke-width="1.2"/>
<path d="M258.5,281 C258.5,277.5 263,276.8 266,278 C270,277 275.5,278 275.3,282 C275,285.5 269,286.2 265.5,285 C261,285 258.5,283.5 258.5,281Z" fill="#28e4cc"/>
<ellipse cx="263.5" cy="281" rx="3.8" ry="1.7" fill="#40d840"/>
<ellipse cx="263.2" cy="281" rx="1.4" ry="0.9" fill="#e8a020"/>
<path d="M262.7,285.5 C265.5,285.5 267,289 266.5,291.5 C266,294.5 263.5,295.5 262,295 C259.5,294.5 258.5,292 259.2,289.5 C260,287.5 261,285.5 262.7,285.5Z" fill="#1448e0"/>
</g>
<path d="M243.3,217.2 L294,217.2 L294,228.4 Q268.65,225.2 243.3,228.4 Z" fill="#0c18d8"/>
<path d="M243.3,228.4 Q268.65,225.2 294,228.4 L294,229.8 Q268.65,226.6 243.3,229.8 Z" fill="#1664e0"/>
<path d="M243.3,317.4 Q268.65,320.6 294,317.4 L294,320.7 Q268.65,323.9 243.3,320.7 Z" fill="#1060e8"/>
<path d="M243.3,320.7 Q268.65,323.9 294,320.7 L294,324.7 Q268.65,327.9 243.3,324.7 Z" fill="#0a1ae0"/>
<path d="M243.3,324.7 Q268.65,327.9 294,324.7 L294,333.8 L243.3,333.8 Z" fill="#1850e8"/>
</g>
<clipPath id="cpb"><path d="M330.8,227.9 Q330.8,225.4 333,224.8 Q354.8,219.4 376.6,224.8 Q378.8,225.4 378.8,227.9 L378.8,323.3 Q378.8,325.8 376.6,326.4 Q354.8,330.6 333,326.4 Q330.8,325.8 330.8,323.3 Z"/></clipPath>
<g clip-path="url(#cpb)">
<rect x="329.8" y="220.1" width="50" height="110.4" fill="url(#gyb)"/>
<g filter="url(#bl1)">
<path d="M356.5,255 C358,250.5 365,250 366,254 C366.5,258 363,263 359,266.5 C356,263 355.5,258 356.5,255Z" fill="#2090e0"/>
<path d="M333,257.5 C336.5,262 341.5,266 348.6,277.5 C344,279.5 340,278 337,274 C334,269 332.5,263 333,257.5Z" fill="#2090e0"/>
<path d="M361.5,271.5 C367,272 374,276 374.5,290 C370,288 364,283 360.5,276.5 Z" fill="#2090e0"/>
<ellipse cx="349.2" cy="290.6" rx="3.2" ry="3.6" fill="#2090e0"/>
<ellipse cx="350" cy="263.5" rx="5.5" ry="9.5" fill="#3ce858" transform="rotate(-12 350 263.5)"/>
<ellipse cx="352.5" cy="281.5" rx="10" ry="7.8" fill="#3ce858"/>
<ellipse cx="360" cy="268.6" rx="6" ry="4" fill="#3ce858"/>
<ellipse cx="351" cy="267" rx="3.5" ry="5" fill="#22d822"/>
<ellipse cx="358.5" cy="269.5" rx="4" ry="2.3" fill="#22d822"/>
<ellipse cx="351.5" cy="281" rx="5.5" ry="3.8" fill="#22d822"/>
<ellipse cx="360.3" cy="270" rx="1.5" ry="1" fill="#f0a020"/>
<ellipse cx="349.7" cy="280.9" rx="1.6" ry="1.1" fill="#f0b020"/>
</g>
<path d="M329.8,217.1 L379.8,217.1 L379.8,227 Q354.8,223.8 329.8,227 Z" fill="#0c18d8"/>
<path d="M329.8,227 Q354.8,223.8 379.8,227 L379.8,228.4 Q354.8,225.2 329.8,228.4 Z" fill="#1890e0"/>
<path d="M329.8,318.1 Q354.8,321.3 379.8,318.1 L379.8,320.6 Q354.8,323.8 329.8,320.6 Z" fill="#2080e0"/>
<path d="M329.8,320.6 Q354.8,323.8 379.8,320.6 L379.8,324.3 Q354.8,327.5 329.8,324.3 Z" fill="#0a1ae0"/>
<path d="M329.8,324.3 Q354.8,327.5 379.8,324.3 L379.8,333.5 L329.8,333.5 Z" fill="#1850e8"/>
</g>
<clipPath id="cpc"><path d="M418.2,228.4 Q418.2,225.9 420.4,225.3 Q442.25,219.9 464.1,225.3 Q466.3,225.9 466.3,228.4 L466.3,324 Q466.3,326.5 464.1,327.1 Q442.25,331.3 420.4,327.1 Q418.2,326.5 418.2,324 Z"/></clipPath>
<g clip-path="url(#cpc)">
<rect x="417.2" y="220.6" width="50.1" height="110.6" fill="#1c9ee0"/>
<g filter="url(#bl1)">
<rect x="417" y="220" width="52" height="112" fill="#1c9ee0"/>
<rect x="417" y="226" width="4.5" height="100" fill="#28b4e0"/>
<rect x="462.5" y="226" width="5" height="100" fill="#1a94d0"/>
<rect x="417" y="226" width="52" height="6" fill="#2090e0"/>
<path d="M426,332 L426,236 Q441,221 456,236 L456,332 Z" fill="#22d0d2"/>
<path d="M431.5,322 L431.5,238 Q442.5,223 454,238 L452,322 Z" fill="#30d030"/>
<path d="M435.8,318 L435.8,243 Q442.5,229 449.5,243 L449,318 Z" fill="#44d628"/>
<path d="M437.8,300 L437.8,251 Q442,238 446.5,251 L447,300 Z" fill="#62da24"/>
<path d="M418,279 Q426,277 434,281 L435,290 Q426,291 418,290 Z" fill="#22d0d2"/>
<path d="M426,318 L456,318 L456,326 L426,326 Z" fill="#22d0d2"/>
<ellipse cx="425.8" cy="259" rx="3.8" ry="19" fill="#2478e4" transform="rotate(-11 425.8 259)"/>
<ellipse cx="425.8" cy="259" rx="2.4" ry="16" fill="#1046d8" transform="rotate(-11 425.8 259)"/>
<ellipse cx="457.4" cy="250.5" rx="3.8" ry="13" fill="#2478e4" transform="rotate(10 457.4 250.5)"/>
<ellipse cx="457.4" cy="250.5" rx="2.3" ry="10.5" fill="#1046d8" transform="rotate(10 457.4 250.5)"/>
<path d="M418,292 Q424,287 431.5,290 Q433,302 429,313 Q423,318 418,315 Z" fill="#2478e4"/>
<path d="M419,294 Q424,290 430,292 Q431,302 428,311 Q423,315 419,312 Z" fill="#1046d8"/>
<path d="M454.5,273.5 Q457,272 459,274 Q467,290 467,315 Q460,320 453,315 Q451.5,295 454.5,273.5Z" fill="#2478e4"/>
<path d="M455.5,276 Q457,274.5 458.5,276 Q465,292 465,312 Q460,317 454.5,312 Q453,295 455.5,276Z" fill="#1046d8"/>
<path d="M417,323 L428.5,323 L428.5,333 L417,333Z" fill="#1440d8"/>
<path d="M454,323 L468,323 L468,333 L454,333Z" fill="#1440d8"/>
<path d="M431,326 L450,326 L450,333 L431,333Z" fill="#30d890"/>
<ellipse cx="443" cy="275" rx="4.5" ry="9" fill="#a8dc20"/>
<ellipse cx="446.2" cy="269.6" rx="2" ry="1.6" fill="#f0b010"/>
<ellipse cx="438.4" cy="281.2" rx="2" ry="1.6" fill="#f0a010"/>
<ellipse cx="446.4" cy="269.8" rx="1.1" ry="0.9" fill="#e83010"/>
<ellipse cx="438.2" cy="281.4" rx="1.1" ry="0.9" fill="#e83010"/>
<path d="M445.5,271 L439.5,280" stroke="#d8d820" stroke-width="1.6"/>
<path d="M429,276 Q434,279 437.5,285 Q437,292 434,293 Q430,290 428,284 Z" fill="#22d0d2"/>
<path d="M451,257 Q454,260 455,266 Q454,272 451,274 Q448,268 448.5,262 Z" fill="#22d0d2"/>
</g>
<path d="M417.2,217.6 L467.3,217.6 L467.3,227.2 Q442.25,224 417.2,227.2 Z" fill="#1424d8"/>
<path d="M417.2,227.2 Q442.25,224 467.3,227.2 L467.3,228.2 Q442.25,225 417.2,228.2 Z" fill="#1870e0"/>
</g>

<text x="19" y="178.3" class="pt" textLength="27.1" lengthAdjust="spacingAndGlyphs">Path a</text>
<text x="91.2" y="178.3" class="pt" textLength="27.6" lengthAdjust="spacingAndGlyphs">Path b</text>
<text x="164" y="178.3" class="pt" textLength="26.2" lengthAdjust="spacingAndGlyphs">Path c</text>
<text x="242" y="217.5" class="pt" textLength="27.1" lengthAdjust="spacingAndGlyphs">Path a</text>
<text x="328.6" y="217.5" class="pt" textLength="27.7" lengthAdjust="spacingAndGlyphs">Path b</text>
<text x="416" y="217.3" class="pt" textLength="27.4" lengthAdjust="spacingAndGlyphs">Path c</text>
<text x="98.4" y="390.1" class="pt" textLength="11.8" lengthAdjust="spacingAndGlyphs">(<tspan font-weight="bold">a</tspan>)</text>
<text x="336.4" y="390.6" class="pt" textLength="12.8" lengthAdjust="spacingAndGlyphs">(<tspan font-weight="bold">b</tspan>)</text>

</svg>
</body></html>
